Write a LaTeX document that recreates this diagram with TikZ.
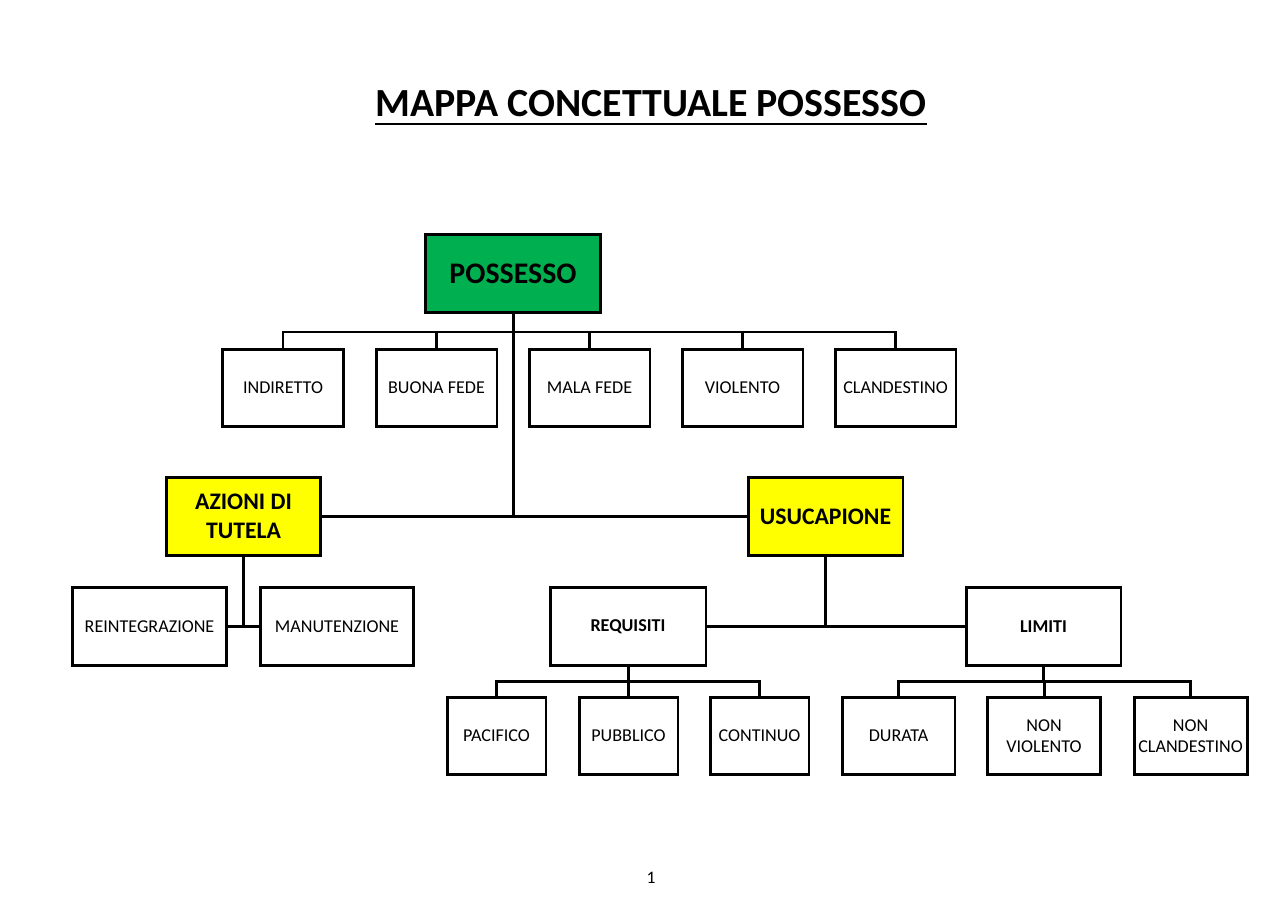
\documentclass[tikz,border=0pt]{standalone}
\usepackage{fontspec}
\setmainfont{Carlito}
\definecolor{verde}{HTML}{00B050}
\definecolor{giallo}{HTML}{FFFF00}
\tikzset{
  box/.style={draw, line width=1.7pt, minimum width=2.42cm, minimum height=1.55cm,
    align=center, font=\fontsize{10.3}{12.2}\selectfont, inner sep=1pt},
  boxg/.style={box, fill=verde, minimum width=3.52cm, font=\bfseries\fontsize{17}{20}\selectfont},
  boxy/.style={box, fill=giallo, minimum width=3.1cm, font=\bfseries\fontsize{13.5}{16.5}\selectfont},
  link/.style={line width=1.7pt}
}

\begin{document}
\begin{tikzpicture}[x=0.02cm, y=-0.02cm]
  \useasboundingbox (0,0) rectangle (1280,905);

  % titolo
  \node[inner sep=0, anchor=base, font=\bfseries\fontsize{22.7}{26}\selectfont] (titolo) at (651,117) {MAPPA CONCETTUALE POSSESSO};
  \draw[line width=1.6pt] ([yshift=-4pt]titolo.base west) -- ([yshift=-4pt]titolo.base east);

  % primo livello
  \node[boxg] (possesso) at (513,273.5) {POSSESSO};
  \node[box] (indiretto) at (283,388) {INDIRETTO};
  \node[box] (buona) at (436.5,388) {BUONA FEDE};
  \node[box] (mala) at (589.5,388) {MALA FEDE};
  \node[box] (violento) at (742.5,388) {VIOLENTO};
  \node[box] (clandestino) at (895.5,388) {CLANDESTINO};

  \coordinate (bus1) at (513,332);
  \coordinate (tronco) at (513,516.5);
  \draw[link] (possesso.south) -- (tronco);
  \draw[link] (bus1) -| (indiretto.north);
  \draw[link] (bus1) -| (buona.north);
  \draw[link] (bus1) -| (mala.north);
  \draw[link] (bus1) -| (violento.north);
  \draw[link] (bus1) -| (clandestino.north);

  % secondo livello
  \node[boxy] (azioni) at (243.5,516.5) {AZIONI DI\\TUTELA};
  \node[boxy] (usucapione) at (825.5,516.5) {USUCAPIONE};
  \draw[link] (azioni.east) -- (usucapione.west);

  \node[box, minimum width=3.1cm] (reint) at (149.5,626.5) {REINTEGRAZIONE};
  \node[box, minimum width=3.08cm] (manut) at (337,626.5) {MANUTENZIONE};
  \coordinate (nodoA) at (243.5,626.5);
  \draw[link] (azioni.south) -- (nodoA);
  \draw[link] (reint.east) -- (manut.west);

  \node[box, minimum width=3.12cm, font=\bfseries\fontsize{10.3}{12.2}\selectfont] (requisiti) at (628,626.5) {REQUISITI};
  \node[box, minimum width=3.1cm, font=\bfseries\fontsize{10.3}{12.2}\selectfont] (limiti) at (1043.5,626.5) {LIMITI};
  \coordinate (nodoU) at (825.5,626.5);
  \draw[link] (usucapione.south) -- (nodoU);
  \draw[link] (requisiti.east) -- (limiti.west);

  % terzo livello
  \node[box, minimum width=1.98cm] (pacifico) at (496.5,736) {PACIFICO};
  \node[box, minimum width=1.98cm] (pubblico) at (628.5,736) {PUBBLICO};
  \node[box, minimum width=1.98cm] (continuo) at (759.5,736) {CONTINUO};
  \node[box, minimum width=2.26cm] (durata) at (898.5,736) {DURATA};
  \node[box, minimum width=2.26cm] (nonviol) at (1044,736) {NON\\VIOLENTO};
  \node[box, minimum width=2.26cm] (nonclan) at (1190.5,736) {NON\\CLANDESTINO};

  \coordinate (bus2) at (628,681);
  \coordinate (bus3) at (1043.5,681);
  \draw[link] (requisiti.south) -- (bus2);
  \draw[link] (bus2) -| (pacifico.north);
  \draw[link] (bus2) -| (pubblico.north);
  \draw[link] (bus2) -| (continuo.north);
  \draw[link] (limiti.south) -- (bus3);
  \draw[link] (bus3) -| (durata.north);
  \draw[link] (bus3) -| (nonviol.north);
  \draw[link] (bus3) -| (nonclan.north);

  \node[font=\fontsize{10}{12}\selectfont] (pagina) at (651,878) {1};
\end{tikzpicture}
\end{document}
